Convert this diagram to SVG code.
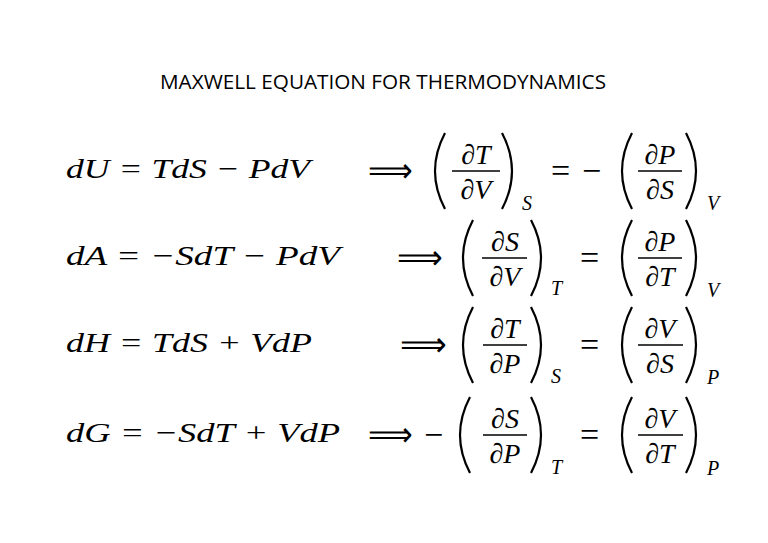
<svg xmlns="http://www.w3.org/2000/svg" width="768" height="543" viewBox="0 0 768 543">
<style>
.t{font-family:"Open Sans","Liberation Sans",sans-serif;font-size:20px;fill:#000}
.m{font-family:"Liberation Serif",serif;font-size:28px;font-style:italic;fill:#000}
.f{font-family:"Liberation Serif",serif;font-size:28px;font-style:italic;fill:#000;text-anchor:middle}
.s{font-family:"Liberation Serif",serif;font-size:20px;font-style:italic;fill:#000}
.u{font-family:"Liberation Serif",serif;font-size:34px;fill:#000}
.b{stroke:#000;stroke-width:1.6}
.p{fill:none;stroke:#000;stroke-width:2.2}
</style>
<rect width="768" height="543" fill="#fff"/>
<text class="t" x="160" y="89" textLength="446" lengthAdjust="spacingAndGlyphs">MAXWELL EQUATION FOR THERMODYNAMICS</text>
<g id="row1">
<text class="m" x="66" y="178" textLength="244" lengthAdjust="spacingAndGlyphs">dU = TdS − PdV</text>
<text class="u" x="368" y="182" textLength="45" lengthAdjust="spacingAndGlyphs">⟹</text>
<path class="p" d="M445 133 Q425 171 445 209"/>
<text class="f" x="476" y="164">∂T</text><line class="b" x1="452" y1="171" x2="500" y2="171"/><text class="f" x="476" y="199">∂V</text>
<path class="p" d="M502 133 Q522 171 502 209"/>
<text class="s" x="522" y="210">S</text>
<text class="u" x="551" y="182">=</text><text class="u" x="582" y="182">−</text>
<path class="p" d="M632 133 Q612 171 632 209"/>
<text class="f" x="660" y="164">∂P</text><line class="b" x1="638" y1="171" x2="682" y2="171"/><text class="f" x="660" y="199">∂S</text>
<path class="p" d="M686 133 Q706 171 686 209"/>
<text class="s" x="707" y="210">V</text>
</g>
<g id="row2">
<text class="m" x="66" y="265" textLength="274" lengthAdjust="spacingAndGlyphs">dA = −SdT − PdV</text>
<text class="u" x="397" y="269" textLength="46" lengthAdjust="spacingAndGlyphs">⟹</text>
<path class="p" d="M473 220 Q453 258 473 296"/>
<text class="f" x="505" y="251">∂S</text><line class="b" x1="482" y1="258" x2="527" y2="258"/><text class="f" x="505" y="286">∂V</text>
<path class="p" d="M531 220 Q551 258 531 296"/>
<text class="s" x="551" y="295">T</text>
<text class="u" x="580" y="269">=</text>
<path class="p" d="M632 220 Q612 258 632 296"/>
<text class="f" x="660" y="251">∂P</text><line class="b" x1="638" y1="258" x2="682" y2="258"/><text class="f" x="660" y="286">∂T</text>
<path class="p" d="M686 220 Q706 258 686 296"/>
<text class="s" x="707" y="297">V</text>
</g>
<g id="row3">
<text class="m" x="66" y="352" textLength="246" lengthAdjust="spacingAndGlyphs">dH = TdS + VdP</text>
<text class="u" x="400" y="356" textLength="47" lengthAdjust="spacingAndGlyphs">⟹</text>
<path class="p" d="M473 307 Q453 345 473 383"/>
<text class="f" x="505" y="338">∂T</text><line class="b" x1="483" y1="345" x2="527" y2="345"/><text class="f" x="505" y="373">∂P</text>
<path class="p" d="M531 307 Q551 345 531 383"/>
<text class="s" x="551" y="383">S</text>
<text class="u" x="580" y="356">=</text>
<path class="p" d="M632 307 Q612 345 632 383"/>
<text class="f" x="660" y="338">∂V</text><line class="b" x1="638" y1="345" x2="683" y2="345"/><text class="f" x="660" y="373">∂S</text>
<path class="p" d="M686 307 Q706 345 686 383"/>
<text class="s" x="707" y="384">P</text>
</g>
<g id="row4">
<text class="m" x="66" y="442" textLength="274" lengthAdjust="spacingAndGlyphs">dG = −SdT + VdP</text>
<text class="u" x="368" y="446" textLength="45" lengthAdjust="spacingAndGlyphs">⟹</text>
<text class="u" x="424" y="446">−</text>
<path class="p" d="M470 397 Q450 435 470 473"/>
<text class="f" x="505" y="428">∂S</text><line class="b" x1="483" y1="435" x2="527" y2="435"/><text class="f" x="505" y="463">∂P</text>
<path class="p" d="M531 397 Q551 435 531 473"/>
<text class="s" x="551" y="474">T</text>
<text class="u" x="580" y="446">=</text>
<path class="p" d="M632 397 Q612 435 632 473"/>
<text class="f" x="660" y="428">∂V</text><line class="b" x1="638" y1="435" x2="683" y2="435"/><text class="f" x="660" y="463">∂T</text>
<path class="p" d="M686 397 Q706 435 686 473"/>
<text class="s" x="707" y="475">P</text>
</g>
</svg>
